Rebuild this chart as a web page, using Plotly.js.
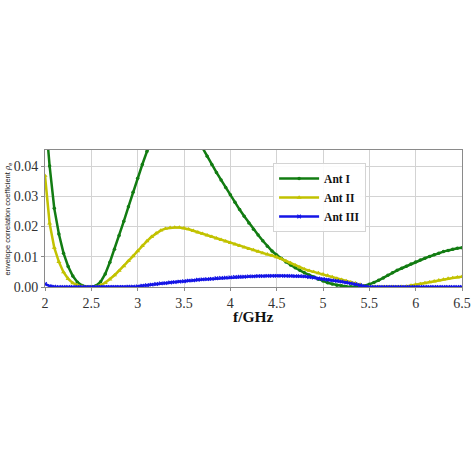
<!DOCTYPE html>
<html>
<head>
<meta charset="utf-8">
<script src="https://cdn.plot.ly/plotly-3.0.1.min.js"></script>
<style>html,body{margin:0;padding:0;background:#fff;}#chart{width:474px;height:474px;}</style>
</head>
<body>
<div id="chart"></div>
<script>
const freq = [2.00,2.05,2.10,2.15,2.20,2.25,2.30,2.35,2.40,2.45,2.50,2.55,2.60,2.65,2.70,2.75,2.80,2.85,2.90,2.95,
3.00,3.05,3.10,3.15,3.20,3.25,3.30,3.35,3.40,3.45,3.50,3.55,3.60,3.65,3.70,3.75,3.80,3.85,3.90,3.95,
4.00,4.05,4.10,4.15,4.20,4.25,4.30,4.35,4.40,4.45,4.50,4.55,4.60,4.65,4.70,4.75,4.80,4.85,4.90,4.95,
5.00,5.05,5.10,5.15,5.20,5.25,5.30,5.35,5.40,5.45,5.50,5.55,5.60,5.65,5.70,5.75,5.80,5.85,5.90,5.95,
6.00,6.05,6.10,6.15,6.20,6.25,6.30,6.35,6.40,6.45,6.50];

const antI = [0.058,0.040,0.026,0.0175,0.0112,0.0068,0.0036,0.0016,0.0005,0.0001,0.0000,0.0004,0.0017,0.0043,0.0082,0.0125,0.0170,0.0217,0.0265,0.0313,
0.0360,0.0405,0.0448,0.0479,0.0505,0.0524,0.0538,0.0546,0.0548,0.0545,0.0537,0.0525,0.0508,0.0486,0.0460,0.0432,0.0405,0.0379,0.0354,0.0329,
0.0305,0.0280,0.0256,0.0234,0.0212,0.0191,0.0172,0.0153,0.0135,0.0119,0.0106,0.0094,0.0083,0.0073,0.0064,0.0055,0.0047,0.0040,0.0033,0.0026,
0.0020,0.0014,0.0010,0.0006,0.0004,0.0002,0.0001,0.0001,0.0002,0.0004,0.0009,0.0015,0.0022,0.0030,0.0039,0.0047,0.0055,0.0062,0.0069,0.0076,
0.0083,0.0089,0.0095,0.0101,0.0107,0.0112,0.0117,0.0121,0.0125,0.0128,0.0130];

const antII = [0.0368,0.0210,0.0130,0.0083,0.0049,0.0027,0.0013,0.0006,0.0002,0.0000,0.0000,0.0001,0.0006,0.0014,0.0025,0.0039,0.0054,0.0069,0.0086,0.0102,
0.0119,0.0136,0.0152,0.0166,0.0178,0.0187,0.0193,0.0196,0.0197,0.0197,0.0195,0.0191,0.0186,0.0181,0.0176,0.0171,0.0166,0.0161,0.0156,0.0151,
0.0146,0.0141,0.0136,0.0131,0.0126,0.0122,0.0117,0.0112,0.0108,0.0104,0.0099,0.0093,0.0086,0.0079,0.0072,0.0065,0.0059,0.0054,0.0050,0.0046,
0.0042,0.0038,0.0033,0.0028,0.0024,0.0020,0.0016,0.0012,0.0008,0.0002,0.0000,0.0000,0.0000,0.0000,0.0000,0.0000,0.0000,0.0001,0.0002,0.0005,
0.0008,0.0010,0.0013,0.0016,0.0019,0.0022,0.0025,0.0028,0.0030,0.0032,0.0034];

const antIII = [0.0010,0.0003,0.0001,0.0000,0.0000,0.0000,0.0000,0.0000,0.0000,0.0000,0.0000,0.0000,0.0000,0.0000,0.0000,0.0000,0.0000,0.0000,0.0001,0.0001,
0.0002,0.0004,0.0006,0.0008,0.0010,0.0012,0.0013,0.0015,0.0016,0.0018,0.0019,0.0021,0.0022,0.0024,0.0025,0.0026,0.0027,0.0029,0.0030,0.0031,
0.0032,0.0033,0.0034,0.0034,0.0035,0.0035,0.0036,0.0036,0.0037,0.0037,0.0037,0.0037,0.0037,0.0037,0.0036,0.0036,0.0035,0.0033,0.0031,0.0028,
0.0026,0.0024,0.0022,0.0020,0.0018,0.0015,0.0012,0.0009,0.0006,0.0002,0.0000,0.0000,0.0000,0.0000,0.0000,0.0000,0.0000,0.0000,0.0000,0.0000,
0.0000,0.0000,0.0000,0.0000,0.0000,0.0000,0.0000,0.0000,0.0000,0.0000,0.0000];

const seriesNames = ['Ant I','Ant II','Ant III'];
const xTickVals = [2,2.5,3,3.5,4,4.5,5,5.5,6,6.5];
const xTickText = ['2','2.5','3','3.5','4','4.5','5','5.5','6','6.5'];
const yTickVals = [0,0.01,0.02,0.03,0.04];
const yTickText = ['0.00','0.01','0.02','0.03','0.04'];

const serif = 'Liberation Serif, DejaVu Serif, serif';

const traces = [
  {x: freq, y: antI, name: seriesNames[0], mode: 'lines+markers',
   line: {color: '#127c12', width: 2.5}, marker: {symbol: 'circle', size: 3.5, color: '#127c12'}},
  {x: freq, y: antII, name: seriesNames[1], mode: 'lines+markers',
   line: {color: '#c2c200', width: 2.5}, marker: {symbol: 'triangle-up', size: 4.5, color: '#c2c200'}},
  {x: freq, y: antIII, name: seriesNames[2], mode: 'lines+markers',
   line: {color: '#1515e6', width: 2.5}, marker: {symbol: 'x-thin-open', size: 3.5, color: '#1515e6', line: {color: '#1515e6', width: 1.2}}}
];

const layout = {
  width: 474, height: 474,
  margin: {l: 45, r: 12, t: 150, b: 187},
  paper_bgcolor: '#ffffff', plot_bgcolor: '#ffffff',
  showlegend: true,
  legend: {x: 0.547, y: 0.905, xanchor: 'left', yanchor: 'top',
    bgcolor: 'rgba(255,255,255,0.9)', bordercolor: '#d4d4d4', borderwidth: 1,
    font: {family: serif, size: 11.5, color: '#111', weight: 'bold'},
    itemwidth: 40, tracegroupgap: 0},
  xaxis: {range: [2, 6.5], tickmode: 'array', tickvals: xTickVals, ticktext: xTickText,
    showgrid: true, gridcolor: '#d3d3d3', gridwidth: 1, zeroline: false,
    showline: true, linecolor: '#8a8a8a', linewidth: 1, mirror: true,
    ticks: 'outside', ticklen: 3, tickcolor: '#8a8a8a',
    tickfont: {family: serif, size: 14, color: '#333'}},
  yaxis: {range: [0, 0.0453], tickmode: 'array', tickvals: yTickVals, ticktext: yTickText,
    showgrid: true, gridcolor: '#d3d3d3', gridwidth: 1, zeroline: false,
    showline: true, linecolor: '#8a8a8a', linewidth: 1, mirror: true,
    ticks: 'outside', ticklen: 3, tickcolor: '#8a8a8a',
    tickfont: {family: serif, size: 14, color: '#333'}},
  annotations: [
    {text: '<b>f/GHz</b>', xref: 'paper', yref: 'paper', x: 0.5, y: -0.14, xanchor: 'center', yanchor: 'top',
     showarrow: false, font: {family: serif, size: 15.5, color: '#111'}},
    {text: 'envelope correlation coefficient <i>ρ<sub>e</sub></i>', xref: 'paper', yref: 'paper',
     x: -0.089, y: 0.5, xanchor: 'center', yanchor: 'middle', textangle: -90,
     showarrow: false, font: {family: 'Liberation Sans, Arial, sans-serif', size: 7.5, color: '#222'}}
  ]
};

Plotly.newPlot('chart', traces, layout, {displayModeBar: false, staticPlot: true});
</script>
</body>
</html>
